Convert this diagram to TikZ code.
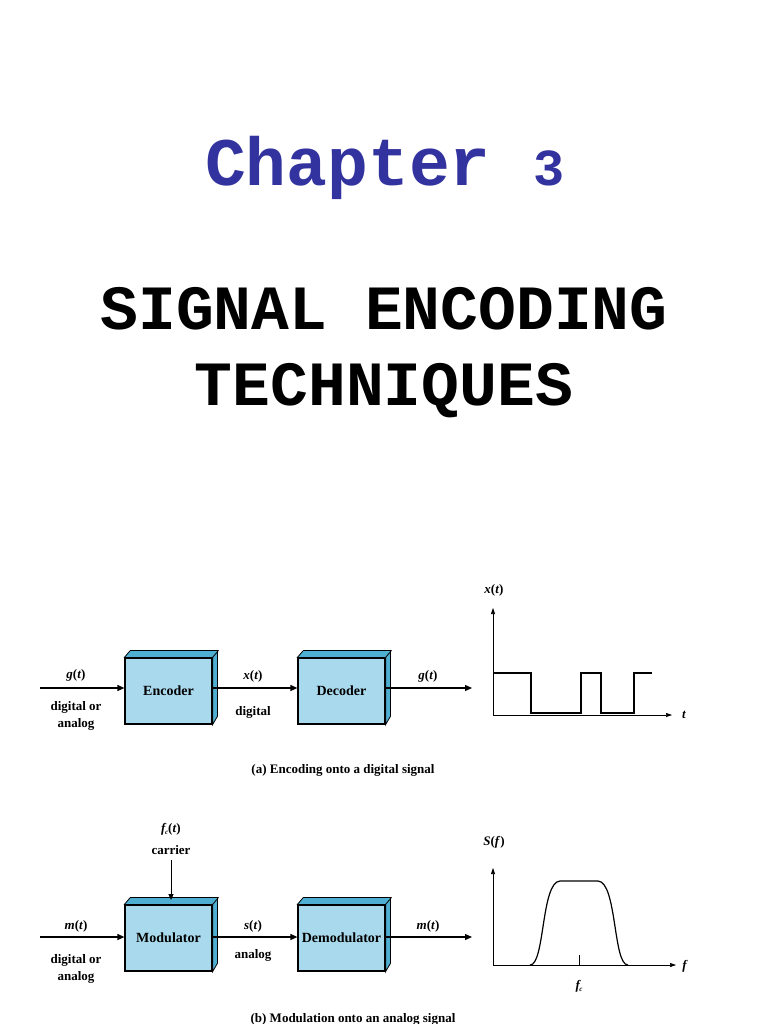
\documentclass[tikz,border=0pt]{standalone}
\usepackage{fontspec}
\setmainfont{Liberation Serif}
\newfontfamily\monof{Liberation Mono}
\usetikzlibrary{arrows.meta}
\definecolor{tblue}{HTML}{3333A0}
\definecolor{boxf}{HTML}{A9D9EC}
\definecolor{boxs}{HTML}{4FAFD2}
\tikzset{
 blk/.style={draw=black,line width=1.2pt,fill=boxf,minimum width=87pt,minimum height=66pt,inner sep=0pt,font=\bfseries\fontsize{14}{14}\selectfont},
 lab/.style={font=\bfseries\fontsize{13}{17}\selectfont,align=center},
 sig/.style={line width=1.2pt,-{Triangle[length=7pt,width=6pt]}},
 ax/.style={line width=0.6pt,-{Triangle[length=6pt,width=4pt]}}
}
\newcommand{\dbox}[3]{% name, center, text
 \node[blk] (#1) at (#2) {#3};
 \fill[boxs,draw=black,line width=0.8pt] (#1.north west) -- ++(6pt,7pt) -- ++(87pt,0) -- ++(0,-66pt) -- (#1.south east) -- (#1.north east) -- cycle;
 \draw[line width=0.8pt] (#1.north east) -- ++(6pt,7pt);
}
\newcommand{\fn}[2]{\textit{#1}(\textit{#2})}
\begin{document}
\begin{tikzpicture}[x=1pt,y=-1pt]
\useasboundingbox (0,0) rectangle (768,1024);
\node[font=\monof\bfseries\fontsize{68}{68}\selectfont,text=tblue,anchor=base] (ch) at (348,186) {Chapter};
\node[font=\monof\bfseries\fontsize{52}{52}\selectfont,text=tblue,anchor=base] (n3) at (549,186) {3};
\node[font=\monof\bfseries\fontsize{63}{76}\selectfont,align=center,anchor=north] (ti) at (384,284) {SIGNAL ENCODING\\TECHNIQUES};
% (a)
\dbox{enc}{168.5,691}{Encoder}
\dbox{dec}{341.5,691}{Decoder}
\coordinate (ina) at (40,688);
\coordinate (outa) at (472,688);
\draw[sig] (ina) -- (ina-|enc.west);
\draw[sig] (enc.east|-ina) -- (dec.west|-ina);
\draw[sig] (dec.east|-ina) -- (outa);
\node[lab] (ga) at (76,675) {\fn{g}{t}};
\node[lab] (dga) at (76,716) {digital or\\analog};
\node[lab] (xa) at (253,676) {\fn{x}{t}};
\node[lab] (da) at (253,712) {digital};
\node[lab] (go) at (428,676) {\fn{g}{t}};
\coordinate (oa) at (493,715);
\draw[ax] (oa) -- (493,608);
\draw[ax] (oa) -- (672,715);
\node[lab] (xt) at (494,590) {\fn{x}{t}};
\node[lab] (ta) at (684,715) {\textit{t}};
\draw[line width=1.2pt] (493,673) -- (531,673) -- (531,713) -- (581,713) -- (581,673) -- (601,673) -- (601,713) -- (634,713) -- (634,673) -- (652,673);
\node[lab] (capa) at (343,770) {(a) Encoding onto a digital signal};
% (b)
\dbox{mod}{168.5,938}{Modulator}
\dbox{dem}{341.5,938}{Demodulator}
\coordinate (inb) at (40,937);
\coordinate (outb) at (472,937);
\draw[sig] (inb) -- (inb-|mod.west);
\draw[sig] (mod.east|-inb) -- (dem.west|-inb);
\draw[sig] (dem.east|-inb) -- (outb);
\coordinate (cr) at (171,860);
\draw[line width=1pt,-{Triangle[length=6pt,width=5pt]}] (cr) -- (171,900);
\node[lab] (fc) at (171,829) {\textit{f\kern-0.5pt\raisebox{-2pt}{\scriptsize c}}(\textit{t})};
\node[lab] (car) at (171,850) {carrier};
\node[lab] (mb) at (76,926) {\fn{m}{t}};
\node[lab] (dgb) at (76,969) {digital or\\analog};
\node[lab] (sb) at (253,926) {\fn{s}{t}};
\node[lab] (an) at (253,955) {analog};
\node[lab] (mo) at (428,926) {\fn{m}{t}};
\coordinate (ob) at (493,965);
\draw[ax] (ob) -- (493,868);
\draw[ax] (ob) -- (676,965);
\node[lab] (sf) at (494,842) {\textit{S}(\textit{f})};
\node[lab] (fb) at (685,966) {\textit{f}};
\draw[line width=1.2pt] (530,965) .. controls (545,965) and (541,882) .. (560,881) -- (598,881) .. controls (617,882) and (613,965) .. (628,965);
\draw[line width=0.5pt] (579,965) -- (579,955);
\node[lab] (fcb) at (579,986) {\textit{f\kern-0.5pt\raisebox{-2pt}{\scriptsize c}}};
\node[lab] (capb) at (353,1019) {(b) Modulation onto an analog signal};
\end{tikzpicture}
\end{document}
